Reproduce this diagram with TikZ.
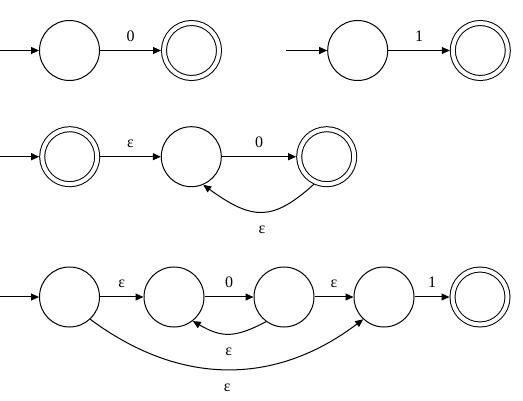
\documentclass[tikz,border=0pt]{standalone}
\usepackage{fontspec}
\setmainfont{Liberation Serif}
\usetikzlibrary{arrows.meta}
\begin{document}
\begin{tikzpicture}[x=1pt,y=-1pt,
  every node/.style={font=\fontsize{16}{18}\selectfont},
  st/.style={circle,draw,line width=1pt,minimum size=60pt,inner sep=0pt,outer sep=0.5pt},
  acc/.style={circle,draw,line width=1pt,double,double distance=4pt,minimum size=55pt,inner sep=0pt,outer sep=3pt},
  tr/.style={line width=1pt,-{Triangle[length=8pt,width=7pt]}},
  lab/.style={midway,above=5.5pt,inner sep=3pt},
  blab/.style={midway,below=11pt,inner sep=3pt}]
\useasboundingbox (0,0) rectangle (523,401);
% row 1 left
\coordinate (s1) at (0,50.5);
\node[st] (a1) at (69.5,50.5) {};
\node[acc] (a2) at (191.5,50.5) {};
\draw[tr] (s1) -- (a1);
\draw[tr] (a1) -- node[lab] {0} (a2);
% row 1 right
\coordinate (s2) at (286,50.5);
\node[st] (b1) at (357.7,50.5) {};
\node[acc] (b2) at (480.3,50.5) {};
\draw[tr] (s2) -- (b1);
\draw[tr] (b1) -- node[lab] {1} (b2);
% row 2
\coordinate (s3) at (0,156.7);
\node[acc] (c1) at (69.7,156.7) {};
\node[st] (c2) at (191.3,156.7) {};
\node[acc] (c3) at (326.7,156.7) {};
\draw[tr] (s3) -- (c1);
\draw[tr] (c1) -- node[lab] {ε} (c2);
\draw[tr] (c2) -- node[lab] {0} (c3);
\draw[tr] (c3.-115) .. controls (273,221) and (253,221) .. node[blab] {ε} (c2.-67);
% row 3
\coordinate (s4) at (0,297);
\node[st] (d1) at (69.5,297) {};
\node[st] (d2) at (174,297) {};
\node[st] (d3) at (284,297) {};
\node[st] (d4) at (384,297) {};
\node[acc] (d5) at (480,297) {};
\draw[tr] (s4) -- (d1);
\draw[tr] (d1) -- node[lab] {ε} (d2);
\draw[tr] (d2) -- node[lab] {0} (d3);
\draw[tr] (d3) -- node[lab] {ε} (d4);
\draw[tr] (d4) -- node[lab] {1} (d5);
\draw[tr] (d3.-126) .. controls (235,338) and (222,338) .. node[blab] {ε} (d2.-52);
\draw[tr] (d1.-47) .. controls (180,386) and (275,386) .. node[blab] {ε} (d4.-133);
\end{tikzpicture}
\end{document}
